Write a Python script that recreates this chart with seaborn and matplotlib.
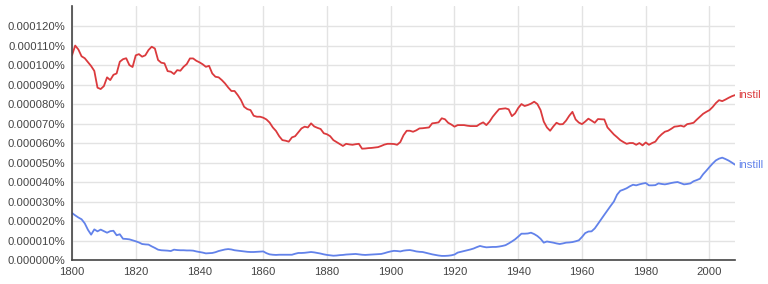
import numpy as np
import pandas as pd
import matplotlib
matplotlib.use("Agg")
import matplotlib.pyplot as plt
import seaborn as sns
from matplotlib.ticker import FuncFormatter, MultipleLocator

# values in millionths of a percent (1.0 -> 0.000001%)
years = list(range(1800, 2009))
instil = [
    105, 110, 108, 104.5, 103.5, 101.5, 99.5, 97, 88.4, 87.7,
    89.2, 93.7, 92.3, 95, 95.7, 101.7, 103, 103.5, 100, 99,
    105, 105.6, 104.3, 105, 107.7, 109.4, 108.5, 102.6, 101.2, 100.9,
    96.9, 96.6, 95.4, 97.4, 97.1, 99.1, 100.5, 103.4, 103.4, 102.2,
    101.4, 100.4, 99.1, 99.6, 95.7, 94, 93.7, 92.3, 90.6, 88.5,
    86.7, 86.7, 84.6, 82.1, 78.6, 77.4, 76.9, 74, 73.5, 73.5,
    73, 72.1, 70.5, 68, 66.2, 63.5, 61.5, 61.2, 60.7, 62.9,
    63.5, 65.5, 67.5, 68.4, 68, 70.1, 68.5, 67.8, 67.2, 65,
    64.5, 63.5, 61.5, 60.5, 59.5, 58.5, 59.6, 59.3, 59.1, 59.4,
    59.6, 57.1, 57.2, 57.4, 57.5, 57.7, 57.9, 58.5, 59.2, 59.6,
    59.6, 59.5, 59.1, 60.5, 64, 66.3, 66.3, 65.8, 66.5, 67.5,
    67.6, 67.8, 68, 70.1, 70.3, 70.6, 72.7, 72.2, 70.4, 69.5,
    68.4, 69.2, 69.2, 69.2, 68.9, 68.7, 68.7, 68.7, 69.8, 70.6,
    69.2, 71, 73.5, 75.5, 77.4, 77.6, 77.8, 77.3, 73.8, 75.2,
    78, 80, 79, 79.5, 80.2, 81.2, 80, 76.9, 71, 68,
    66.3, 68.5, 70.4, 69.6, 69.7, 71.5, 74, 76, 72.1, 70.5,
    69.7, 71, 72.5, 71.5, 70.4, 72.3, 72.2, 72.1, 68, 66.2,
    64.4, 63, 61.5, 60.5, 59.6, 60, 60, 59.1, 60, 58.8,
    60.3, 59.1, 60, 60.7, 62.9, 64.5, 65.8, 66.3, 67.3, 68.4,
    68.6, 68.9, 68.4, 69.7, 70, 70.4, 72, 73.5, 75, 76,
    76.9, 78.5, 80.5, 82, 81.5, 82.3, 83.2, 84, 84.6,
]
instill = [
    24.1, 22.9, 21.8, 20.9, 18.8, 15.5, 13, 15.7, 14.7, 15.6,
    14.8, 14, 14.8, 15, 12.7, 13.2, 10.9, 10.8, 10.6, 10.1,
    9.6, 9, 8.2, 8, 7.9, 7, 6.2, 5.3, 5, 4.9,
    4.8, 4.6, 5.3, 5.1, 5, 5, 4.9, 4.9, 4.8, 4.4,
    4.1, 3.8, 3.4, 3.5, 3.6, 4, 4.6, 5, 5.4, 5.6,
    5.4, 5, 4.8, 4.6, 4.4, 4.2, 4.1, 4.1, 4.2, 4.3,
    4.4, 3.5, 2.9, 2.7, 2.6, 2.7, 2.7, 2.7, 2.7, 2.7,
    3.2, 3.6, 3.6, 3.7, 3.9, 4.1, 3.9, 3.6, 3.3, 2.9,
    2.6, 2.4, 2.2, 2.3, 2.5, 2.6, 2.8, 2.9, 3, 3.1,
    2.9, 2.7, 2.6, 2.7, 2.8, 2.9, 3, 3.1, 3.5, 4,
    4.4, 4.7, 4.6, 4.4, 4.8, 5, 5.1, 4.8, 4.4, 4.2,
    4.1, 3.7, 3.3, 2.9, 2.6, 2.3, 2.1, 2.1, 2.2, 2.4,
    2.8, 3.8, 4.2, 4.6, 5, 5.4, 5.9, 6.6, 7.2, 6.8,
    6.5, 6.6, 6.7, 6.7, 6.9, 7.2, 7.6, 8.5, 9.5, 10.6,
    12, 13.5, 13.5, 13.6, 14, 13.3, 12.3, 10.9, 8.9, 9.5,
    9.2, 8.9, 8.5, 8.2, 8.5, 8.9, 9, 9.2, 9.6, 10.1,
    11.8, 13.8, 14.6, 14.7, 16.2, 18.5, 20.9, 23.2, 25.5, 27.8,
    30, 33.5, 35.5, 36.1, 36.8, 37.8, 38.6, 38.3, 38.8, 39.2,
    39.5, 38.3, 38.3, 38.4, 39.3, 39, 38.8, 39.1, 39.5, 39.8,
    40, 39.4, 38.8, 39, 39.3, 40.4, 41, 41.7, 44, 45.8,
    47.7, 49.5, 51.1, 52, 52.5, 51.8, 51, 50, 48.9,
]
words = ["instil", "instill"]
colors = {"instil": "#db3a3d", "instill": "#6282ea"}
y_ticks = list(range(0, 121, 10))
x_ticks = list(range(1800, 2001, 20))

df = pd.concat([
    pd.DataFrame({"year": years, "value": np.array(instil) * 1e-6, "word": "instil"}),
    pd.DataFrame({"year": years, "value": np.array(instill) * 1e-6, "word": "instill"}),
])

sns.set_style("white")
plt.rcParams["font.family"] = ["Liberation Sans", "DejaVu Sans"]

fig = plt.figure(figsize=(7.68, 2.84), dpi=100)
ax = fig.add_axes([72 / 768, 1 - 260 / 284, (735 - 72) / 768, (260 - 6) / 284])

sns.lineplot(data=df, x="year", y="value", hue="word", palette=colors,
             estimator=None, legend=False, linewidth=1.3, ax=ax)

ax.set_xlim(1800, 2008)
ax.set_ylim(0, 130.3e-6)
ax.set_xticks(x_ticks)
ax.set_yticks([v * 1e-6 for v in y_ticks])
ax.yaxis.set_major_formatter(FuncFormatter(lambda v, p: f"{v:.6f}%"))
ax.grid(True, color="#e3e3e3", linewidth=1.0)
ax.set_axisbelow(True)
ax.set_xlabel("")
ax.set_ylabel("")
for s in ["top", "right"]:
    ax.spines[s].set_visible(False)
for s in ["left", "bottom"]:
    ax.spines[s].set_color("#444444")
    ax.spines[s].set_linewidth(1.2)
ax.tick_params(axis="both", which="major", direction="out", length=3,
               width=1, color="#444444", labelsize=8.1, labelcolor="#444444", pad=2)

for w, vals in zip(words, [instil, instill]):
    ax.annotate(w, xy=(years[-1], vals[-1] * 1e-6), xytext=(2, 0),
                textcoords="offset points", va="center", ha="left",
                color=colors[w], fontsize=8.1, annotation_clip=False)

fig.savefig("out.png", dpi=100)
